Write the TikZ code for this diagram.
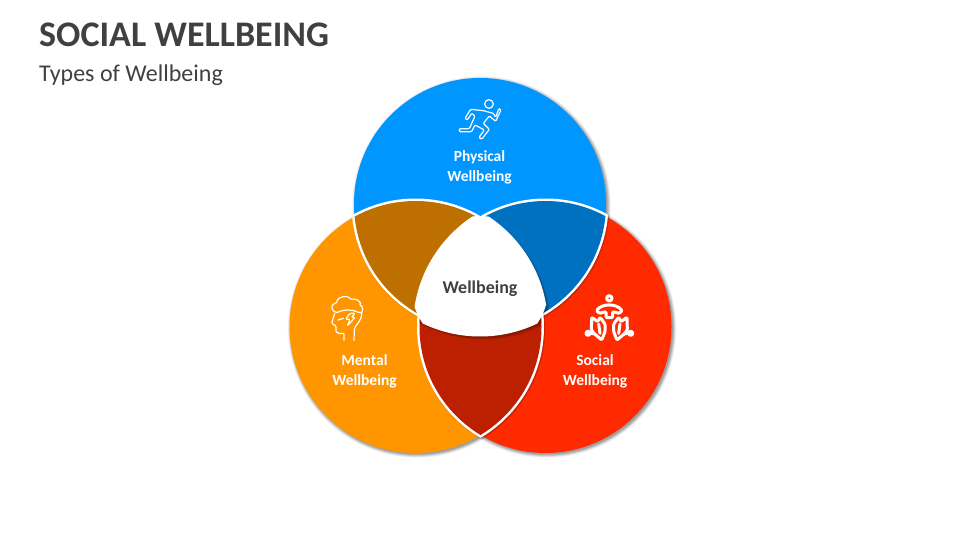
\documentclass[tikz,border=0pt]{standalone}
\usepackage{fontspec}
\setmainfont{Carlito}
\definecolor{cblue}{HTML}{0096FF}
\definecolor{corange}{HTML}{FF9600}
\definecolor{cred}{HTML}{FF2A00}
\definecolor{cbrown}{HTML}{BD7000}
\definecolor{cdblue}{HTML}{0070C0}
\definecolor{cdred}{HTML}{BC2000}
\definecolor{ctext}{HTML}{404040}
\def\R{126}
\def\Rc{132.5}
\def\bluec{(480,204)}
\def\orangec{(415.5,327)}
\def\redc{(545.5,327)}
\newcommand{\softshadow}[2]{% #1 centre, #2 radius
  \foreach \d/\o in {3.2/.05,2.4/.07,1.6/.09,.8/.1,0/.12}
    \fill[black,opacity=\o] #1 ++(1.5,1.5) circle ({#2+\d});}
\newcommand{\lens}[3]{% #1,#2 centres, #3 colour
  \foreach \d/\o in {3.2/.08,2.4/.1,1.6/.12}{
  \begin{scope}\clip #1 ++(1,1) circle (\R+\d);\clip #2 ++(1,1) circle (\R+\d);
    \fill[black,opacity=\o] (250,50) rectangle (700,480);
  \end{scope}}
  \begin{scope}\clip #1 circle (\R+2.5);\clip #2 circle (\R+2.5);
    \fill[white] (250,50) rectangle (700,480);
  \end{scope}
  \begin{scope}\clip #1 circle (\R);\clip #2 circle (\R);
    \fill[#3] (250,50) rectangle (700,480);
    \foreach \d/\o in {0/.07,1/.08,2/.1,3/.12}{
      \begin{scope}
        \clip \bluec ++(\d,\d) circle (\Rc);
        \clip \orangec ++(\d,\d) circle (\Rc);
        \clip \redc ++(\d,\d) circle (\Rc);
        \fill[black,opacity=\o] (250,50) rectangle (700,480);
      \end{scope}}
  \end{scope}}
\tikzset{
  label text/.style={text=white,font=\fontsize{15.5}{19.5}\selectfont\bfseries,align=center,inner sep=0pt},
  icon line/.style={draw=white,line width=1.2pt,line join=round,line cap=round,rounded corners=1pt},
  icon thick/.style={draw=white,line width=3pt,line join=round,line cap=round,rounded corners=1pt}
}
\begin{document}
\begin{tikzpicture}[x=1pt,y=-1pt]
\useasboundingbox (0,0) rectangle (960,540);
\fill[white] (0,0) rectangle (960,540);
\softshadow{\bluec}{\R}
\softshadow{\orangec}{\R}
\softshadow{\redc}{\R}
\fill[cblue] \bluec circle (\R);
\fill[corange] \orangec circle (\R);
\fill[cred] \redc circle (\R);
\lens{\bluec}{\orangec}{cbrown}
\lens{\bluec}{\redc}{cdblue}
\lens{\orangec}{\redc}{cdred}
\begin{scope}
  \clip (480,285) circle (69);
  \clip \bluec circle (\Rc);
  \clip \orangec circle (\Rc);
  \clip \redc circle (\Rc);
  \fill[white] (250,50) rectangle (700,480);
\end{scope}
% texts
\node[anchor=west,inner sep=0pt,text=ctext,font=\fontsize{36}{40}\selectfont\bfseries] (title) at (39,35) {SOCIAL WELLBEING};
\node[anchor=west,inner sep=0pt,text=ctext,font=\fontsize{24}{28}\selectfont] (subtitle) at (39,75) {Types of Wellbeing};
\node[label text] (physical) at (479.5,167.5) {Physical\\Wellbeing};
\node[label text] (mental) at (364.5,371.5) {Mental\\Wellbeing};
\node[label text] (social) at (595,371.5) {Social\\Wellbeing};
\node[inner sep=0pt,text=ctext,font=\fontsize{18}{22}\selectfont\bfseries] (centre) at (480,289) {Wellbeing};
% runner icon
\begin{scope}[shift={(430,80)},x=.3333pt,y=-.3333pt]
  \draw[icon line] (177,72) circle (13);
  \draw[icon line] (160,92) -- (190,100) -- (197,112) -- (207,85) -- (213,90) -- (197,124) -- (178,108) -- (160,130) -- (178,148) -- (155,178) -- (147,172) -- (163,150) -- (135,135) -- (125,155) -- (88,155) -- (88,146) -- (118,146) -- (135,108) -- (125,100) -- (112,120) -- (105,115) -- (122,88) -- cycle;
\end{scope}
% head icon
\begin{scope}[shift={(310,280)},x=.3333pt,y=-.3333pt]
  \draw[icon line,rounded corners=3pt] (82,97) .. controls (62,97) and (62,72) .. (82,70) .. controls (82,52) and (112,45) .. (122,60) .. controls (140,55) and (152,68) .. (145,75) .. controls (160,80) and (158,98) .. (145,98) .. controls (125,88) and (100,88) .. (82,97);
  \draw[icon line] (74,100) -- (65,130) -- (78,138) -- (78,155) .. controls (85,162) and (95,160) .. (102,160) -- (102,181);
  \draw[icon line] (155,100) .. controls (155,125) and (135,135) .. (133,150) -- (132,181);
  \draw[icon line] (120,100) -- (107,118) -- (120,118) -- (112,138) -- (135,112) -- (124,112) -- (135,100) -- cycle;
  \draw[icon line] (84,120) -- (100,115);
\end{scope}
% social icon
\begin{scope}[shift={(550,280)},x=.3333pt,y=-.3333pt]
  \draw[icon thick] (178,55) circle (8);
  \draw[icon thick] (140,92) .. controls (155,70) and (200,70) .. (216,92) -- (208,100) -- (188,95) -- (188,113) -- (168,113) -- (168,95) -- (148,100) -- cycle;
  \draw[icon thick] (125,112) -- (143,125) -- (150,112) -- (165,132) -- (165,155) -- (155,180) -- (134,162) -- (124,150) -- cycle;
  \draw[icon thick] (146,132) -- (150,160);
  \draw[icon thick] (124,160) -- (134,162);
  \draw[icon thick] (114,160) circle (6);
  \draw[icon thick] (231,112) -- (213,125) -- (206,112) -- (191,132) -- (191,155) -- (201,180) -- (222,162) -- (232,150) -- cycle;
  \draw[icon thick] (210,132) -- (206,160);
  \draw[icon thick] (232,160) -- (222,162);
  \draw[icon thick] (242,160) circle (6);
\end{scope}
\end{tikzpicture}
\end{document}
